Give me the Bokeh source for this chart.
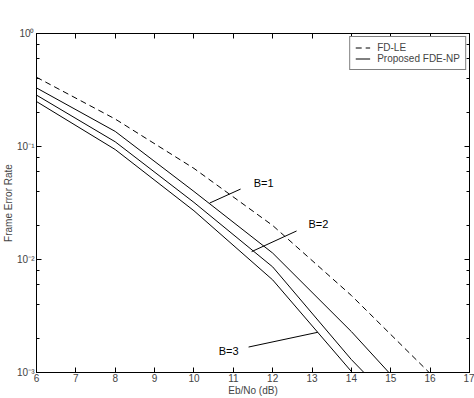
from bokeh.plotting import figure
from bokeh.models import (LogAxis, LinearAxis, FixedTicker, LogTicker, CustomJSTickFormatter,
                          Label, Legend, LegendItem, Range1d)
from bokeh.embed import file_html
from bokeh.resources import INLINE

# ---- data ----
ebno = [6, 8, 10, 12, 14, 16]
fer_fdle = [0.41, 0.175, 0.064, 0.020, 0.0048, 0.00098]
fer_b1 = [0.33, 0.136, 0.040, 0.0114, 0.0023, 0.00040]
fer_b2 = [0.285, 0.11, 0.032, 0.0086, 0.0013, 0.00025]
fer_b3 = [0.25, 0.094, 0.027, 0.0066, 0.00102, 0.00020]

x_ticks = list(range(6, 18))
legend_labels = ["FD-LE", "Proposed FDE-NP"]

# annotations: text, text position, pointer start, pointer end
ann_text = ["B=1", "B=2", "B=3"]
ann_tx = [11.52, 12.91, 10.63]
ann_ty = [0.0474, 0.0206, 0.00156]
ptr_x0 = [10.40, 11.465, 11.388]
ptr_y0 = [0.0316, 0.01174, 0.00168]
ptr_x1 = [11.185, 12.607, 13.147]
ptr_y1 = [0.0420, 0.01788, 0.00227]

FONT = "Liberation Sans"

p = figure(width=474, height=398, y_axis_type="log",
           x_range=Range1d(6, 17), y_range=Range1d(1e-3, 1),
           output_backend="svg", toolbar_location=None,
           min_border_left=35, min_border_top=33, min_border_right=5, min_border_bottom=25)
p.xgrid.visible = False
p.ygrid.visible = False
p.outline_line_color = "black"
p.outline_line_width = 1
p.background_fill_color = "white"
p.border_fill_color = "white"

sup_code = """
const e = Math.round(Math.log10(tick));
const sup = {'0':'\u2070','1':'\u00b9','2':'\u00b2','3':'\u00b3','-':'\u207b'};
return '10' + String(e).split('').map(c => sup[c]).join('');
"""

# bottom x axis
xa = p.xaxis[0]
xa.ticker = FixedTicker(ticks=x_ticks)
xa.axis_label = "Eb/No (dB)"
# left y axis
ya = p.yaxis[0]
ya.ticker = LogTicker()
ya.formatter = CustomJSTickFormatter(code=sup_code)
ya.axis_label = "Frame Error Rate"

for ax in (xa, ya):
    ax.major_tick_in = 5
    ax.major_tick_out = 0
    ax.minor_tick_in = 3
    ax.minor_tick_out = 0
    ax.major_label_text_font = FONT
    ax.major_label_text_font_size = "10px"
    ax.axis_label_text_font = FONT
    ax.axis_label_text_font_size = "10px"
    ax.axis_label_text_font_style = "normal"
    ax.axis_line_color = "black"
    ax.axis_label_standoff = 0
xa.minor_tick_line_color = None
xa.major_label_standoff = 1
ya.major_label_standoff = 2

# top and right axes (ticks only, invisible labels)
top = LinearAxis(ticker=FixedTicker(ticks=x_ticks), major_tick_in=5, major_tick_out=0,
                 minor_tick_line_color=None, major_label_text_font_size="1px",
                 major_label_text_color=None, major_label_standoff=0)
p.add_layout(top, "above")
right = LogAxis(ticker=LogTicker(), major_tick_in=5, major_tick_out=0,
                minor_tick_in=3, minor_tick_out=0, major_label_text_font_size="1px",
                major_label_text_color=None, major_label_standoff=0)
p.add_layout(right, "right")

r_fdle = p.line(ebno, fer_fdle, line_color="black", line_width=1, line_dash="6 4")
r_b1 = p.line(ebno, fer_b1, line_color="black", line_width=1)
r_b2 = p.line(ebno, fer_b2, line_color="black", line_width=1)
r_b3 = p.line(ebno, fer_b3, line_color="black", line_width=1)

p.segment(x0=ptr_x0, y0=ptr_y0, x1=ptr_x1, y1=ptr_y1, line_color="black", line_width=1)
for t, tx, ty in zip(ann_text, ann_tx, ann_ty):
    p.add_layout(Label(x=tx, y=ty, text=t, text_font=FONT, text_font_size="11px",
                       text_baseline="middle", text_align="left", text_color="black"))

legend = Legend(items=[LegendItem(label=legend_labels[0], renderers=[r_fdle]),
                       LegendItem(label=legend_labels[1], renderers=[r_b1])],
                location="top_right", border_line_color="black", border_line_width=1,
                label_text_font=FONT, label_text_font_size="10px",
                glyph_width=15, glyph_height=11, label_height=11, spacing=0,
                padding=5, margin=3, label_standoff=7, background_fill_alpha=1)
p.add_layout(legend, "center")

open("out.html", "w").write(file_html(p, INLINE))
